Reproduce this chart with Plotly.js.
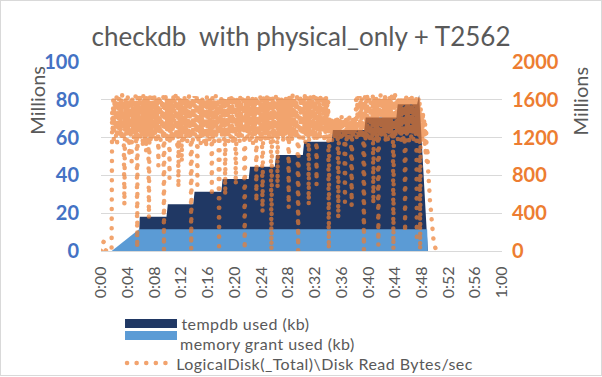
<!DOCTYPE html>
<html>
<head>
<meta charset="utf-8">
<script src="https://cdn.plot.ly/plotly-3.0.1.min.js"></script>
<style>
  html, body { margin: 0; padding: 0; background: #ffffff; }
  #wrap { width: 600px; height: 374px; border: 1px solid #D9D9D9; background: #fff; }
  .scatterlayer .js-line, .shapelayer path { stroke-linecap: round !important; }
  g.annotation[data-index="2"] text, g.annotation[data-index="3"] text, g.annotation[data-index="4"] text { letter-spacing: 0.45px; }
</style>
</head>
<body>
<div id="wrap"><div id="chart" style="width:600px;height:374px;"></div></div>
<script>
// ---- data (minutes since start, values in millions) ----
const tickMinutes = [0, 4, 8, 12, 16, 20, 24, 28, 32, 36, 40, 44, 48, 52, 56, 60];
const tickLabels = ["0:00","0:04","0:08","0:12","0:16","0:20","0:24","0:28","0:32","0:36","0:40","0:44","0:48","0:52","0:56","1:00"];

const tempdbMinutes = [5.6, 5.8, 9.8, 10.0, 13.8, 14.0, 18.0, 18.2, 22.1, 22.3, 26.0, 26.2, 30.2, 30.4, 34.5, 34.7, 39.4, 39.6, 44.2, 44.4, 47.3, 47.6, 48.9];
const tempdbUsed = [0, 18.1, 18.1, 24.7, 24.7, 31.4, 31.4, 38.1, 38.1, 44.6, 44.6, 50.8, 50.8, 57.8, 57.8, 64.0, 64.0, 70.7, 70.7, 77.6, 77.6, 82.5, 0];

const grantMinutes = [1.6, 5.7, 48.8, 48.9];
const grantUsed = [0, 11.5, 11.5, 0];

// Disk read bytes/sec (millions), one sample every 5 s starting at 0:00 (12 per minute)
const diskStart = 0;
const diskStep = 1 / 12;
const diskRead = [
  0, 5, 20, 40, 90, 100, 60, 30, 10, 5, 0, 0,
  0, 0, 5, 10, 10, 20, 30, 20, 1480, 1250, 1600, 1180,
  1620, 1300, 1590, 1220, 1640, 1150, 1600, 1270, 1630, 1200, 1580, 1240,
  1610, 1180, 1650, 1300, 1590, 1120, 490, 1280, 1620, 1230, 1600, 1160,
  1640, 1250, 1570, 1000, 1620, 1200, 1600, 950, 1630, 1280, 1590, 1180,
  1610, 1240, 1640, 1150, 1580, 30, 1620, 1220, 1600, 1270, 1650, 1190,
  1590, 1230, 1620, 1100, 1640, 1260, 1600, 1180, 1570, 1050, 1630, 1220,
  1610, 1290, 350, 1200, 1640, 1150, 1590, 1250, 1620, 1180, 1600, 1280,
  1650, 1210, 1580, 1140, 1620, 1260, 1600, 900, 1640, 1230, 1590, 1170,
  1620, 1250, 1600, 1190, 1630, 10, 1580, 1280, 1640, 1220, 1610, 1150,
  1590, 1270, 1640, 770, 1600, 1200, 1620, 1240, 1570, 1160, 1630, 1300,
  1610, 1180, 1650, 1250, 1590, 1120, 1620, 670, 1600, 1260, 1640, 1210,
  1580, 940, 1620, 1230, 1600, 1170, 1640, 1280, 1590, 1200, 1630, 1150,
  1610, 1250, 1650, 1190, 1580, 1270, 20, 1220, 1620, 1160, 1600, 1290,
  1640, 1210, 1590, 1250, 1620, 700, 1600, 1180, 1630, 1240, 1570, 1130,
  1610, 1280, 1640, 1200, 1590, 1150, 1620, 1260, 1600, 1100, 1650, 1220,
  1580, 1240, 1620, 1180, 1640, 1270, 1600, 625, 1630, 1210, 1590, 1160,
  1610, 1250, 1650, 1190, 1580, 1280, 1620, 1220, 0, 1150, 1600, 1260,
  1640, 1200, 1590, 1240, 1620, 1170, 1600, 590, 1630, 1280, 1570, 1210,
  1610, 1150, 1640, 1250, 1590, 1190, 1620, 1270, 1600, 1130, 1650, 1230,
  1580, 1260, 700, 1180, 1620, 1240, 1640, 1200, 1600, 1150, 1630, 1280,
  1590, 1210, 1610, 1250, 1640, 1170, 15, 1230, 1620, 1280, 1600, 1190,
  1650, 1240, 1580, 1160, 1620, 1270, 1600, 1200, 1630, 1140, 1590, 1250,
  1610, 1220, 1640, 520, 1600, 1180, 1620, 1260, 1570, 1210, 1640, 1150,
  1600, 1280, 410, 1190, 1630, 1240, 1590, 1170, 1620, 1250, 1650, 1210,
  1580, 1160, 1620, 1270, 1600, 1200, 10, 1230, 1640, 1150, 1610, 1260,
  1590, 1220, 1630, 1180, 1600, 667, 1650, 1250, 1580, 1190, 1620, 1240,
  1640, 1270, 1600, 1150, 1620, 1230, 1590, 1200, 1630, 1260, 1610, 1180,
  1580, 455, 1640, 1220, 1600, 1250, 1620, 1170, 1650, 1210, 1590, 1280,
  1620, 1190, 1600, 1240, 1630, 1160, 0, 1250, 1610, 1200, 1640, 1270,
  1590, 1230, 1620, 1180, 1600, 1260, 1650, 1150, 1580, 1220, 1630, 1240,
  1600, 487, 1620, 1200, 1640, 1270, 1590, 1190, 1610, 1250, 1630, 1160,
  1580, 1230, 1620, 700, 1600, 1280, 1640, 1210, 1590, 1180, 1620, 1250,
  1650, 1200, 1600, 1270, 1630, 1150, 1590, 1240, 1620, 1190, 1610, 1260,
  1580, 20, 1400, 1200, 1380, 1250, 1420, 1170, 1390, 1230, 1410, 1190,
  1380, 1260, 1420, 1180, 1400, 1240, 350, 1200, 1410, 1270, 1390, 1160,
  1420, 1220, 1380, 1250, 1400, 1190, 520, 1230, 1410, 1170, 1390, 1260,
  1400, 1200, 1420, 1240, 1380, 1180, 480, 1250, 1410, 1210, 1390, 1230,
  1400, 1260, 1600, 1200, 1630, 1240, 1590, 1180, 1640, 1250, 1610, 1220,
  1620, 1190, 1600, 1260, 10, 1230, 1640, 1170, 1590, 1250, 1630, 1210,
  1650, 1240, 1600, 1180, 1620, 1270, 1580, 1200, 1640, 500, 1610, 1250,
  1590, 1220, 1630, 1160, 1600, 1260, 60, 1210, 1620, 1240, 1650, 1190,
  1600, 1270, 1620, 1200, 1590, 1230, 1640, 1150, 1610, 1250, 1630, 1180,
  1580, 1240, 1620, 1210, 1600, 1260, 1640, 1170, 1590, 15, 1620, 1230,
  1650, 1200, 1600, 1250, 1630, 1180, 1610, 1270, 1590, 1220, 1640, 1160,
  1620, 1240, 1600, 1190, 1630, 1260, 200, 1210, 1650, 1230, 1590, 1280,
  1610, 1170, 1640, 1250, 1600, 1200, 1620, 1240, 1580, 1180, 1630, 1260,
  1600, 1220, 1640, 100, 1590, 1250, 1620, 1190, 1560, 10, 1500, 1200,
  1450, 1150, 1480, 1200, 1420, 1100, 1350, 1000, 1250, 950, 1100, 900,
  800, 700, 600, 500, 450, 400, 300, 250, 180, 120, 90, 60,
  40, 20, 10, 0
];

const names = ["tempdb used (kb)", "memory grant used (kb)", "LogicalDisk(_Total)\\Disk Read Bytes/sec"];
const navy = "#203864", lightBlue = "#5B9BD5", orange = "#ED7D31";
const textGray = "#595959";
const font = "Lato, 'Open Sans', sans-serif";

const traces = [
  {
    type: "scatter", mode: "lines", name: names[0],
    x: tempdbMinutes, y: tempdbUsed, yaxis: "y",
    fill: "tozeroy", fillcolor: navy,
    line: { color: navy, width: 0 }
  },
  {
    type: "scatter", mode: "lines", name: names[1],
    x: grantMinutes, y: grantUsed, yaxis: "y",
    fill: "tozeroy", fillcolor: lightBlue,
    line: { color: lightBlue, width: 0 }
  },
  {
    type: "scatter", mode: "lines", name: names[2],
    x0: diskStart, dx: diskStep, y: diskRead, yaxis: "y2",
    opacity: 0.7,
    line: { color: orange, width: 4.5, dash: "0.1px,9.5px", simplify: false }
  }
];

// manual legend (paper coordinates relative to the plot area)
const legendShapes = [
  { type: "rect", xref: "paper", yref: "paper", x0: 0.0599, x1: 0.1895, y0: -0.3598, y1: -0.4074,
    fillcolor: navy, line: { width: 0 } },
  { type: "rect", xref: "paper", yref: "paper", x0: 0.0599, x1: 0.1895, y0: -0.4233, y1: -0.4709,
    fillcolor: lightBlue, line: { width: 0 } },
  { type: "line", xref: "paper", yref: "paper", x0: 0.0648, x1: 0.1845, y0: -0.5926, y1: -0.5926,
    opacity: 0.7, line: { color: orange, width: 4.5, dash: "0.1px,9.5px" } }
];
const legendYs = [-0.3862, -0.4894, -0.5926];
const legendTexts = names.map((n, i) => ({
  text: n, xref: "paper", yref: "paper", x: 0.207, y: legendYs[i], xanchor: "left", yanchor: "middle",
  showarrow: false, borderpad: 0, font: { family: font, size: 16, color: textGray }
}));

const layout = {
  width: 600, height: 374,
  margin: { l: 100, r: 99, t: 61, b: 124, autoexpand: false },
  paper_bgcolor: "#ffffff", plot_bgcolor: "#ffffff",
  font: { family: font, color: textGray },
  showlegend: false,
  title: {
    text: "checkdb  with physical_only + T2562",
    font: { family: font, size: 26, color: textGray },
    x: 0.5, xref: "container", xanchor: "center",
    y: 0.904, yref: "container", yanchor: "middle"
  },
  xaxis: {
    range: [0, 60], tickmode: "array", tickvals: tickMinutes, ticktext: tickLabels,
    tickangle: -90, tickfont: { family: font, size: 16, color: textGray },
    showgrid: false, zeroline: false, showline: true, linecolor: "#D9D9D9", linewidth: 1,
    ticks: "", ticklabelstandoff: 8
  },
  yaxis: {
    range: [0, 100], dtick: 20, tick0: 0,
    tickfont: { family: font, size: 20, color: "#4472C4", weight: "bold" },
    showgrid: true, gridcolor: "#D9D9D9", gridwidth: 1, zeroline: false, showline: false,
    ticks: "", ticklabelstandoff: 21
  },
  yaxis2: {
    range: [0, 2000], dtick: 400, tick0: 0, overlaying: "y", side: "right",
    tickfont: { family: font, size: 20, color: orange, weight: "bold" },
    showgrid: false, zeroline: false, showline: false,
    ticks: "", ticklabelstandoff: 9
  },
  shapes: legendShapes,
  annotations: [
    { text: "Millions", xref: "paper", yref: "paper", x: -0.16, y: 0.80, xanchor: "center", yanchor: "middle",
      textangle: -90, showarrow: false, font: { family: font, size: 20, color: textGray } },
    { text: "Millions", xref: "paper", yref: "paper", x: 1.194, y: 0.795, xanchor: "center", yanchor: "middle",
      textangle: -90, showarrow: false, font: { family: font, size: 20, color: textGray } }
  ].concat(legendTexts)
};

Plotly.newPlot("chart", traces, layout, { staticPlot: true, displayModeBar: false });
</script>
</body>
</html>
